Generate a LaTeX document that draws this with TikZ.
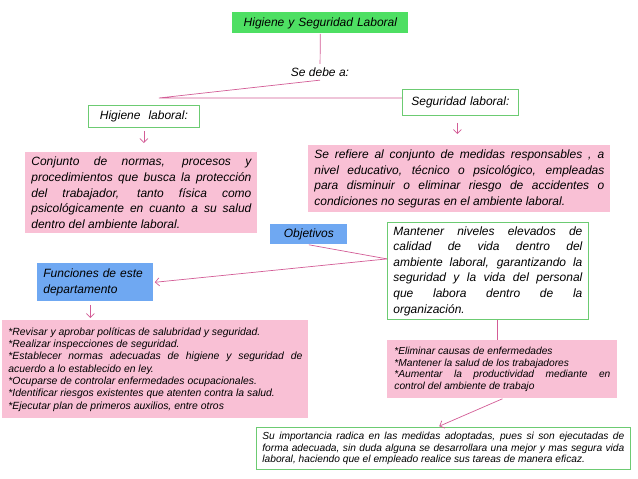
\documentclass[tikz,border=0pt]{standalone}
\usepackage{fontspec}
\setmainfont{Liberation Sans}
\usetikzlibrary{arrows.meta, positioning, calc}
\definecolor{cgreen}{HTML}{4EDF63}
\definecolor{cedge}{HTML}{6CCB72}
\definecolor{cpink}{HTML}{F9C0D5}
\definecolor{cblue}{HTML}{6FA8F2}
\definecolor{cline}{HTML}{D35C96}
\hyphenpenalty=10000
\exhyphenpenalty=10000
\tolerance=9999
\tikzset{
  every picture/.style={x=1pt, y=-1pt, line width=0.8pt},
  txt/.style={font=\fontsize{12}{15.6}\selectfont\itshape},
  smalltxt/.style={font=\fontsize{10.4}{12.3}\selectfont\itshape},
  tinytxt/.style={font=\fontsize{10.2}{11.8}\selectfont\itshape},
  card/.style={anchor=north west, inner xsep=6pt, inner ysep=3pt, align=justify},
  pinkbox/.style={card, fill=cpink},
  greenbox/.style={card, draw=cedge, fill=white},
  bluebox/.style={card, fill=cblue},
  link/.style={draw=cline, line width=0.7pt},
  arrow/.style={link, -{Straight Barb[length=4pt, width=8pt]}},
}

\begin{document}
\begin{tikzpicture}
  \useasboundingbox[fill=white] (0,0) rectangle (638,479);
  \node[card, txt, fill=cgreen, text width=164pt, minimum height=21pt, align=center] (main) at (232,12) {Higiene y Seguridad Laboral};
  \node[txt] (debe) at (320,72) {Se debe a:};
  \node[greenbox, txt, text width=99pt, minimum height=22pt, align=center] (hig) at (88,105) {Higiene\ \ laboral:};
  \node[greenbox, txt, text width=104pt, minimum height=26pt, align=center] (seg) at (402,89) {Seguridad laboral:};
  \node[pinkbox, txt, text width=220pt, minimum height=81pt] (higdef) at (25,152)
    {Conjunto de normas, procesos y\linebreak procedimientos que busca la protección\linebreak del trabajador, tanto física como\linebreak psicológicamente en cuanto a su salud\linebreak dentro del ambiente laboral.};
  \node[pinkbox, txt, text width=290pt, minimum height=67pt] (segdef) at (308,145)
    {Se refiere al conjunto de medidas responsables , a\linebreak nivel educativo, técnico o psicológico, empleadas\linebreak para disminuir o eliminar riesgo de accidentes o\linebreak condiciones no seguras en el ambiente laboral.};
  \node[bluebox, txt, text width=65pt, minimum height=20pt, align=center] (obj) at (270,224) {Objetivos};
  \node[greenbox, txt, text width=189pt, minimum height=97pt] (goal) at (387,222)
    {Mantener niveles elevados de\linebreak calidad de vida dentro del\linebreak ambiente laboral, garantizando la\linebreak seguridad y la vida del personal\linebreak que labora dentro de la\linebreak organización.};
  \node[bluebox, txt, text width=104pt, minimum height=38pt, align=left] (func) at (37,263) {Funciones de este\\departamento};
  \node[pinkbox, smalltxt, text width=294pt, minimum height=98pt] (tasks) at (2,320)
    {*Revisar y aprobar políticas de salubridad y seguridad.\\{}*Realizar inspecciones de seguridad.\\{}*Establecer normas adecuadas de higiene y seguridad de\linebreak acuerdo a lo establecido en ley.\\{}*Ocuparse de controlar enfermedades ocupacionales.\\{}*Identificar riesgos existentes que atenten contra la salud.\\{}*Ejecutar plan de primeros auxilios, entre otros};
  \node[pinkbox, tinytxt, inner xsep=7pt, text width=216pt, minimum height=58pt] (aims) at (387,340)
    {*Eliminar causas de enfermedades\\{}*Mantener la salud de los trabajadores\\{}*Aumentar la productividad mediante en\linebreak control del ambiente de trabajo};
  \node[greenbox, tinytxt, text width=362pt, minimum height=42pt] (worth) at (256,427)
    {Su importancia radica en las medidas adoptadas, pues si son ejecutadas de\linebreak forma adecuada, sin duda alguna se desarrollara una mejor y mas segura vida\linebreak laboral, haciendo que el empleado realice sus tareas de manera eficaz.};

  \coordinate (split) at ([xshift=15pt, yshift=7pt]hig.north);
  \coordinate (meet) at ([yshift=12pt]goal.west);
  \draw[link] (main) -- (debe);
  \draw[link] (debe.south) -- (split) -- (split -| seg.west);
  \draw[arrow, shorten <=3pt, shorten >=9pt] (hig.south) -- (hig.south |- higdef.north);
  \draw[arrow, shorten <=7pt, shorten >=11pt] ([xshift=-3pt]seg.south) -- ([xshift=-3pt]seg.south |- segdef.north);
  \draw[link] (obj.south) -- (meet);
  \draw[arrow, shorten >=1pt] (meet) -- (func.east);
  \draw[arrow, shorten <=3pt, shorten >=2pt] ([xshift=-5pt]func.south) -- ([xshift=-5pt]func.south |- tasks.north);
  \draw[link] ([xshift=9pt]goal.south) -- ([xshift=9pt]goal.south |- aims.north);
  \draw[arrow, shorten >=2pt] (aims.south) -- ([xshift=-6pt]worth.north);
\end{tikzpicture}
\end{document}
